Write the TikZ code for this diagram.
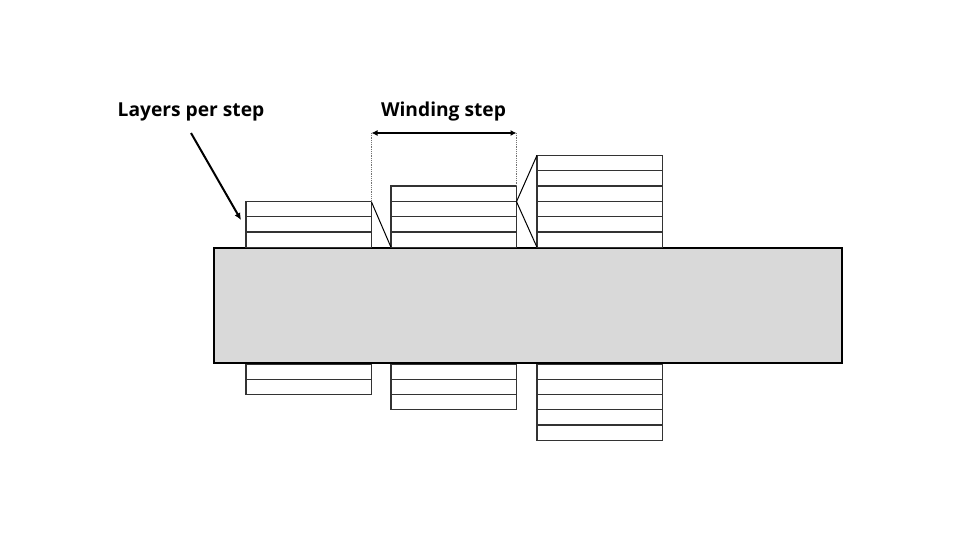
\documentclass[tikz,border=0pt]{standalone}
\usepackage{fontspec}
\setmainfont{Open Sans}
\usetikzlibrary{arrows.meta}

\tikzset{
  layer/.style={draw=black!80, fill=white, line width=1.3pt},
  shaft/.style={draw=black, fill=black!15, line width=1.1pt},
  guide/.style={draw=black!55, densely dotted, line width=0.8pt},
  label/.style={font=\bfseries\fontsize{19.2}{22}\selectfont, inner sep=0pt}
}

\begin{document}
\begin{tikzpicture}[x=1pt, y=-1pt, line width=1pt]
\useasboundingbox (0,0) rectangle (960,540);

% core
\draw[shaft] (214,248) rectangle (842,363);

% stacks: left x / layers on top / layers below
\foreach \x/\up/\dn in {246/3/2, 391/4/3, 537/6/5}{
  \foreach \i in {1,...,\up}
    \draw[layer] (\x,247.3-15.33*\i) rectangle ++(125.5,15.33);
  \foreach \i in {1,...,\dn}
    \draw[layer] (\x,364.2+15.2*\i-15.2) rectangle ++(125.5,15.2);
}

% step links
\coordinate (s1top) at (371.5,202);
\coordinate (s2bot) at (391,247.3);
\coordinate (s2mid) at (516.5,201.7);
\coordinate (s2top) at (516.5,186.6);
\coordinate (s3top) at (537,155.3);
\coordinate (s3bot) at (537,247.3);
\draw (s1top) -- (s2bot);
\draw (s2mid) -- (s3top);
\draw (s2mid) -- (s3bot);

% winding step
\coordinate (wl) at (371.5,133);
\coordinate (wr) at (516.5,133);
\draw[guide] (wl) -- (s1top);
\draw[guide] (wr) -- (s2top);
\draw[line width=2pt, {Latex[length=6pt,width=6pt]}-{Latex[length=6pt,width=6pt]}] (wl) -- (wr);
\node[label] (ws) at (443.5,112) {Winding step};

% layers per step
\node[label] (lps) at (191,112) {Layers per step};
\coordinate (lpsa) at (191,133);
\coordinate (lpsb) at (241,220);
\draw[line width=2pt, -{Latex[length=7pt,width=6.5pt]}] (lpsa) -- (lpsb);

\end{tikzpicture}
\end{document}
